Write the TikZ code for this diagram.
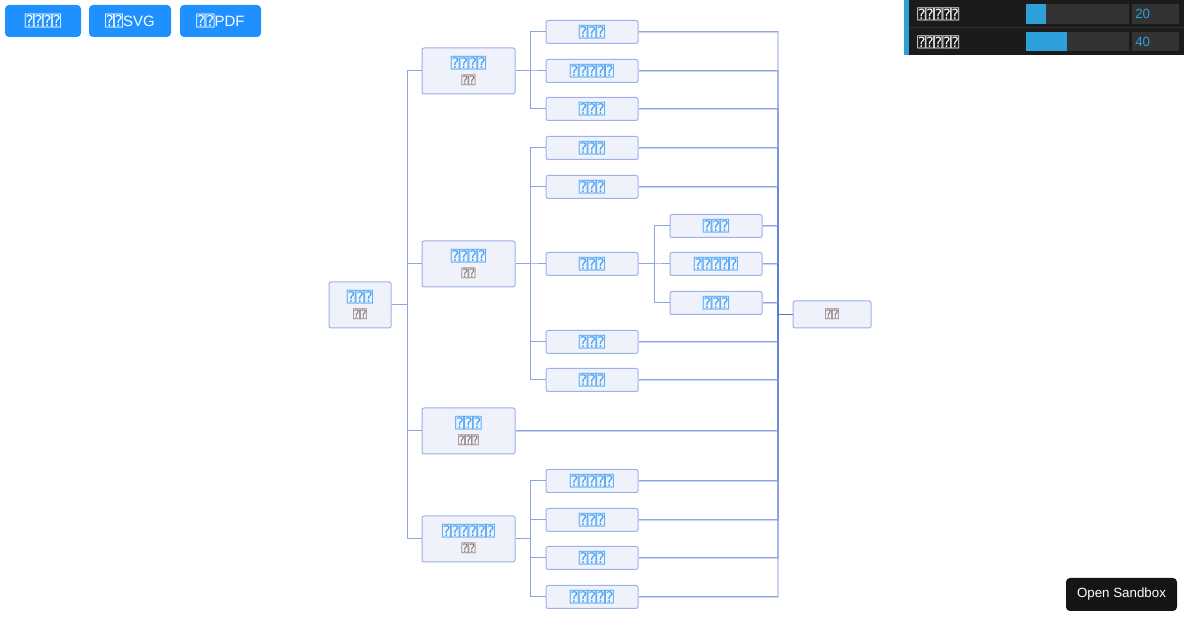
\documentclass[tikz,border=0pt]{standalone}
\usepackage{fontspec}
\setmainfont{Liberation Sans}
\newfontfamily\tofufont{DejaVu Sans Mono}
\usetikzlibrary{positioning}

\definecolor{linkblue}{HTML}{8FA5E3}
\definecolor{flowblue}{HTML}{4F72D4}
\definecolor{boxfill}{HTML}{EFF2FB}
\definecolor{boxline}{HTML}{9DB0EA}
\definecolor{txtblue}{HTML}{3C9EF5}
\definecolor{txtbrown}{HTML}{806A62}
\definecolor{btnblue}{HTML}{1E90FF}
\definecolor{panelbg}{HTML}{1B1B1B}
\definecolor{trackbg}{HTML}{333333}
\definecolor{sliderblue}{HTML}{2D9FD9}
\definecolor{sandboxbg}{HTML}{151515}

\newcommand{\sub}[1]{{\fontsize{8.6}{12}\selectfont\textcolor{txtbrown}{#1}}}

\begin{document}
\begin{tikzpicture}[x=0.75pt,y=-0.75pt,inner sep=0pt,
                    box/.style={draw=boxline,fill=boxfill,line width=0.75pt,rounded corners=1.5pt,
                                text=txtblue,font=\tofufont\fontsize{11}{12}\selectfont,align=center},
                    leaf/.style={box,minimum width=69pt,minimum height=17.25pt},
                    mid/.style={box,minimum width=69.75pt,minimum height=34.5pt},
                    link/.style={draw=linkblue,line width=0.75pt},
                    flow/.style={draw=flowblue,draw opacity=0.3,line width=1pt},
                    btn/.style={fill=btnblue,rounded corners=3pt,text=white,minimum height=24pt,
                                font=\fontsize{11.25}{13}\selectfont}]
    \useasboundingbox (0,0) rectangle (1200,630);

    % tree
    \node at (360,305)   (root) [box,minimum width=46.5pt,minimum height=34.5pt] {⍰⍰⍰\\\sub{⍰⍰}};
    \node at (468.5,71)  (cons) [mid] {⍰⍰⍰⍰\\\sub{⍰⍰}};
    \node at (468.5,264) (core) [mid] {⍰⍰⍰⍰\\\sub{⍰⍰}};
    \node at (468.5,431) (solo) [mid] {⍰⍰⍰\\\sub{⍰⍰⍰}};
    \node at (468.5,539) (tail) [mid] {⍰⍰⍰⍰⍰⍰\\\sub{⍰⍰}};

    \node at (592,32)  (consA) [leaf] {⍰⍰⍰};
    \node at (592,71)  (consB) [leaf] {⍰⍰⍰⍰⍰};
    \node at (592,109) (consC) [leaf] {⍰⍰⍰};

    \node at (592,148) (coreA) [leaf] {⍰⍰⍰};
    \node at (592,187) (coreB) [leaf] {⍰⍰⍰};
    \node at (592,264) (coreC) [leaf] {⍰⍰⍰};
    \node at (592,342) (coreD) [leaf] {⍰⍰⍰};
    \node at (592,380) (coreE) [leaf] {⍰⍰⍰};

    \node at (716,226) (deepA) [leaf] {⍰⍰⍰};
    \node at (716,264) (deepB) [leaf] {⍰⍰⍰⍰⍰};
    \node at (716,303) (deepC) [leaf] {⍰⍰⍰};

    \node at (592,481) (tailA) [leaf] {⍰⍰⍰⍰⍰};
    \node at (592,520) (tailB) [leaf] {⍰⍰⍰};
    \node at (592,558) (tailC) [leaf] {⍰⍰⍰};
    \node at (592,597) (tailD) [leaf] {⍰⍰⍰⍰⍰};

    \node at (832,314.5) (sink) [box,minimum width=58.5pt,minimum height=20.25pt] {\sub{⍰⍰}};
    \coordinate (bus) at (778,314.5);

    \foreach \n in {cons,core,solo,tail}
        \draw [link] (root.east) -- ++(16,0) |- (\n.west);
    \foreach \n in {consA,consB,consC}
        \draw [link] (cons.east) -- ++(15,0) |- (\n.west);
    \foreach \n in {coreA,coreB,coreC,coreD,coreE}
        \draw [link] (core.east) -- ++(15,0) |- (\n.west);
    \foreach \n in {tailA,tailB,tailC,tailD}
        \draw [link] (tail.east) -- ++(15,0) |- (\n.west);
    \foreach \n in {deepA,deepB,deepC}
        \draw [link] (coreC.east) -- ++(16,0) |- (\n.west);

    % every leaf runs into the sink
    \foreach \n in {consA,consB,consC,coreA,coreB,deepA,deepB,deepC,coreD,coreE,solo,tailA,tailB,tailC,tailD}
        \draw [flow] (\n.east) -| (bus) -- (sink.west);
    \foreach \n in {consA,consB,consC,coreA,coreB,deepA,deepB,deepC,coreD,coreE,solo,tailA,tailB,tailC,tailD}
        \draw [link] (\n.east) -- (\n.east -| bus);

    % toolbar
    \node at (43,21)    (btnRun) [btn,minimum width=57pt]    {{\tofufont ⍰⍰⍰⍰}};
    \node at (130,21)   (btnSvg) [btn,minimum width=61.5pt]  {{\tofufont ⍰⍰}SVG};
    \node at (220.5,21) (btnPdf) [btn,minimum width=60.75pt] {{\tofufont ⍰⍰}PDF};

    % control panel
    \fill [panelbg] (904,0) rectangle (1184,55);
    \fill [sliderblue] (904,0) rectangle (909,55);
    \draw [trackbg!70!panelbg,line width=0.75pt] (909,27.5) -- (1184,27.5);
    \node at (917,14) (lblA) [anchor=west,text=white,font=\tofufont\fontsize{10.5}{12}\selectfont] {⍰⍰⍰⍰⍰};
    \node at (917,42) (lblB) [anchor=west,text=white,font=\tofufont\fontsize{10.5}{12}\selectfont] {⍰⍰⍰⍰⍰};
    \fill [trackbg] (1026,4) rectangle (1129,24);
    \fill [sliderblue] (1026,4) rectangle (1046,24);
    \fill [trackbg] (1026,32) rectangle (1129,51);
    \fill [sliderblue] (1026,32) rectangle (1067,51);
    \fill [trackbg] (1132,4) rectangle (1179,24);
    \fill [trackbg] (1132,32) rectangle (1179,51);
    \node at (1135,14)   (valA) [anchor=west,text=sliderblue,font=\fontsize{10}{12}\selectfont] {20};
    \node at (1135,41.5) (valB) [anchor=west,text=sliderblue,font=\fontsize{10}{12}\selectfont] {40};

    % sandbox button
    \node at (1121.5,594.5) (sandbox) [fill=sandboxbg,rounded corners=3pt,text=white,
                                       minimum width=83.25pt,minimum height=24.75pt,
                                       font=\fontsize{10}{12}\selectfont] {Open Sandbox};
\end{tikzpicture}
\end{document}
